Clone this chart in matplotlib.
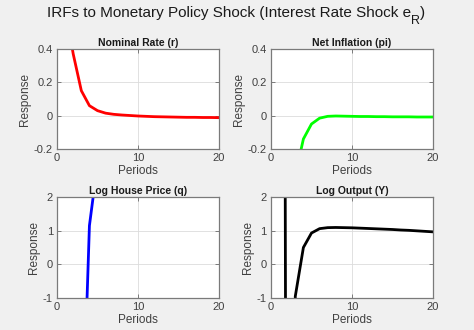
import numpy as np
import matplotlib
matplotlib.use("Agg")
import matplotlib.pyplot as plt

plt.rcParams['font.family'] = ['Liberation Sans', 'DejaVu Sans']

periods = np.arange(1, 21)

# impulse responses, one value per period
nominal_rate = [0.65, 0.37, 0.15, 0.06, 0.03, 0.015, 0.008, 0.004, 0.001, -0.002,
                -0.004, -0.006, -0.007, -0.008, -0.009, -0.010, -0.010, -0.011, -0.011, -0.012]
net_inflation = [-2.0, -0.9, -0.36, -0.14, -0.05, -0.015, -0.004, -0.002, -0.003, -0.004,
                 -0.005, -0.005, -0.006, -0.006, -0.007, -0.007, -0.007, -0.008, -0.008, -0.008]
house_price = [-20.0, -12.0, -6.2, 1.15, 3.0, 3.6, 3.9, 4.1, 4.2, 4.25,
               4.3, 4.3, 4.3, 4.3, 4.25, 4.25, 4.2, 4.2, 4.15, 4.1]
log_output = [78.0, -22.0, -0.95, 0.5, 0.93, 1.06, 1.09, 1.095, 1.09, 1.085,
              1.075, 1.065, 1.055, 1.045, 1.035, 1.02, 1.01, 0.995, 0.98, 0.965]

panels = [
    ("Nominal Rate (r)", nominal_rate, (1.0, 0.0, 0.0), (-0.2, 0.4), [-0.2, 0, 0.2, 0.4]),
    ("Net Inflation (pi)", net_inflation, (0.0, 1.0, 0.0), (-0.2, 0.4), [-0.2, 0, 0.2, 0.4]),
    ("Log House Price (q)", house_price, (0.0, 0.0, 1.0), (-1, 2), [-1, 0, 1, 2]),
    ("Log Output (Y)", log_output, (0.0, 0.0, 0.0), (-1, 2), [-1, 0, 1, 2]),
]

positions = [
    [0.1203, 0.5485, 0.3418, 0.303],
    [0.5717, 0.5485, 0.3418, 0.303],
    [0.1203, 0.097, 0.3418, 0.306],
    [0.5717, 0.097, 0.3418, 0.306],
]

fig = plt.figure(figsize=(4.74, 3.3), dpi=100)
fig.patch.set_facecolor('#f0f0f0')

for (title, vals, color, ylim, yticks), pos in zip(panels, positions):
    ax = fig.add_axes(pos)
    ax.plot(periods, vals, color=color, linewidth=2)
    ax.set_xlim(0, 20)
    ax.set_ylim(*ylim)
    ax.set_xticks([0, 10, 20])
    ax.set_yticks(yticks)
    ax.set_yticklabels([f"{t:g}" for t in yticks])
    ax.grid(True, color='#dcdcdc', linewidth=0.6)
    ax.set_axisbelow(True)
    for s in ax.spines.values():
        s.set_color('#7a7a7a')
        s.set_linewidth(0.9)
    ax.tick_params(direction='in', length=3, width=0.7, color='#7a7a7a',
                   labelsize=8, labelcolor='#404040', top=True, right=True, pad=3)
    ax.set_title(title, fontsize=7.5, fontweight='bold', color='#1a1a1a', pad=2)
    ax.set_xlabel("Periods", fontsize=8.5, color='#404040', labelpad=1)
    ax.set_ylabel("Response", fontsize=8.5, color='#404040', labelpad=2)

# figure title with a TeX-style subscript R, built from three pieces
W, H = fig.get_size_inches() * fig.dpi
base_y = 1 - 17.5 / H
parts = [("IRFs to Monetary Policy Shock (Interest Rate Shock e", 11, 0),
         ("R", 9, -6.5),
         (")", 11, 0)]
renderer = fig.canvas.get_renderer()
texts = []
for s, size, dy in parts:
    t = fig.text(0, base_y + dy / H, s, fontsize=size, color='#1a1a1a', va='baseline')
    texts.append(t)
widths = [t.get_window_extent(renderer).width for t in texts]
x = (W - sum(widths)) / 2 - 1
for t, w in zip(texts, widths):
    t.set_x(x / W)
    x += w

fig.savefig("out.png", dpi=100, facecolor=fig.get_facecolor())
